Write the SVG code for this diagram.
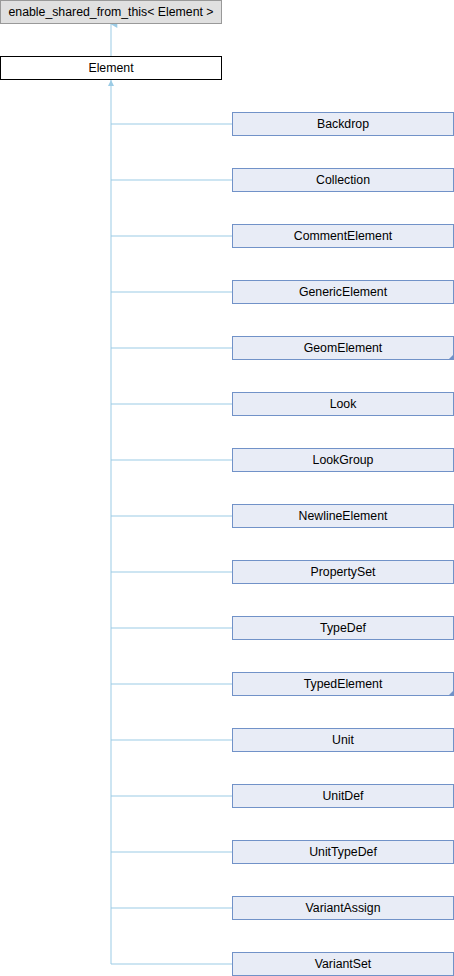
<svg xmlns="http://www.w3.org/2000/svg" width="454" height="976" viewBox="0 0 454 976">
<style>
text{font-family:"Liberation Sans",Arial,sans-serif;font-size:12.3px;fill:#000;text-anchor:middle}
.c rect{fill:#E8ECF6;stroke:#7192C8;stroke-width:1}
.e{stroke:#9BCBE5;stroke-width:1;fill:none}
.tri{fill:#7192C8}
</style>
<defs>
<marker id="ah" markerWidth="8" markerHeight="8" refX="3.5" refY="0.5" orient="auto" markerUnits="userSpaceOnUse" viewBox="0 0 7 6">
<path d="M0,6 L3.5,0 L7,6 Z" fill="#9BCBE5"/>
</marker>
</defs>
<rect width="454" height="976" fill="#fff"/>
<g id="connectors">
<line class="e" x1="111" y1="56" x2="111" y2="24" marker-end="url(#ah)"/>
<path class="e" d="M111,964 V80"/>
<polygon points="111,80 108,86 114,86" fill="#9BCBE5"/>
<path class="e" d="M111,124H232M111,180H232M111,236H232M111,292H232M111,348H232M111,404H232M111,460H232M111,516H232M111,572H232M111,628H232M111,684H232M111,740H232M111,796H232M111,852H232M111,908H232M111,964H232"/>
</g>
<g id="enable_shared_from_this"><rect x="0.5" y="0.5" width="221" height="23" fill="#E0E0E0" stroke="#999"/><text x="111" y="16">enable_shared_from_this&lt; Element &gt;</text></g>
<g id="Element"><rect x="0.5" y="56.5" width="221" height="23" fill="#fff" stroke="#000"/><text x="111" y="72">Element</text></g>
<g id="Backdrop" class="c"><rect x="232.5" y="112.5" width="221" height="23"/><text x="343" y="128">Backdrop</text></g>
<g id="Collection" class="c"><rect x="232.5" y="168.5" width="221" height="23"/><text x="343" y="184">Collection</text></g>
<g id="CommentElement" class="c"><rect x="232.5" y="224.5" width="221" height="23"/><text x="343" y="240">CommentElement</text></g>
<g id="GenericElement" class="c"><rect x="232.5" y="280.5" width="221" height="23"/><text x="343" y="296">GenericElement</text></g>
<g id="GeomElement" class="c"><rect x="232.5" y="336.5" width="221" height="23"/><text x="343" y="352">GeomElement</text><polygon class="tri" points="454,354 454,360 448,360"/></g>
<g id="Look" class="c"><rect x="232.5" y="392.5" width="221" height="23"/><text x="343" y="408">Look</text></g>
<g id="LookGroup" class="c"><rect x="232.5" y="448.5" width="221" height="23"/><text x="343" y="464">LookGroup</text></g>
<g id="NewlineElement" class="c"><rect x="232.5" y="504.5" width="221" height="23"/><text x="343" y="520">NewlineElement</text></g>
<g id="PropertySet" class="c"><rect x="232.5" y="560.5" width="221" height="23"/><text x="343" y="576">PropertySet</text></g>
<g id="TypeDef" class="c"><rect x="232.5" y="616.5" width="221" height="23"/><text x="343" y="632">TypeDef</text></g>
<g id="TypedElement" class="c"><rect x="232.5" y="672.5" width="221" height="23"/><text x="343" y="688">TypedElement</text><polygon class="tri" points="454,690 454,696 448,696"/></g>
<g id="Unit" class="c"><rect x="232.5" y="728.5" width="221" height="23"/><text x="343" y="744">Unit</text></g>
<g id="UnitDef" class="c"><rect x="232.5" y="784.5" width="221" height="23"/><text x="343" y="800">UnitDef</text></g>
<g id="UnitTypeDef" class="c"><rect x="232.5" y="840.5" width="221" height="23"/><text x="343" y="856">UnitTypeDef</text></g>
<g id="VariantAssign" class="c"><rect x="232.5" y="896.5" width="221" height="23"/><text x="343" y="912">VariantAssign</text></g>
<g id="VariantSet" class="c"><rect x="232.5" y="952.5" width="221" height="23"/><text x="343" y="968">VariantSet</text></g>
</svg>
